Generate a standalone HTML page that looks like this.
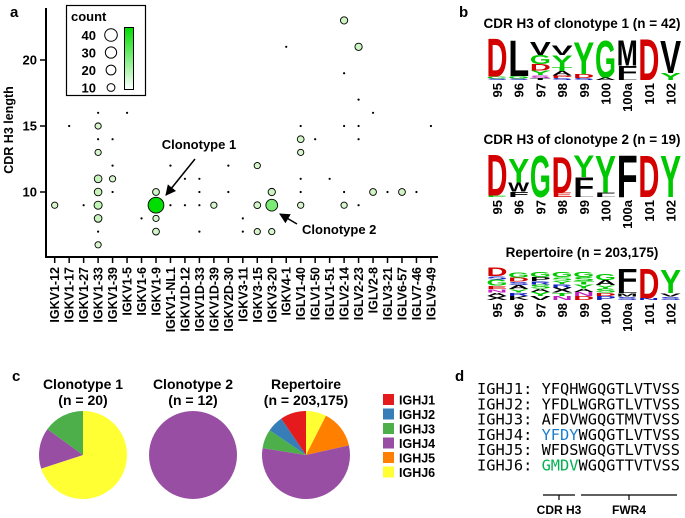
<!DOCTYPE html>
<html><head><meta charset="utf-8">
<style>
html,body{margin:0;padding:0;background:#fff;}
svg{display:block;font-family:"Liberation Sans",Arial,sans-serif;}
.b{font-weight:bold;}
</style></head>
<body>
<svg id="fig" width="685" height="518" viewBox="0 0 685 518" xmlns="http://www.w3.org/2000/svg">
<defs>
<linearGradient id="cg" x1="0" y1="1" x2="0" y2="0"><stop offset="0" stop-color="#ffffff"/><stop offset="1" stop-color="#00dd00"/></linearGradient>
<marker id="ah" viewBox="0 0 10 10" refX="9" refY="5" markerWidth="7" markerHeight="7" orient="auto"><path d="M0,0 L10,5 L0,10 z" fill="#000"/></marker>
</defs>
<g id="pa"></g>
<g id="pb"></g>
<g id="pc"></g>
<g id="pd"></g>
</svg>
<script>
// ---------- Panel a data ----------
const vGenes = ["IGKV1-12","IGKV1-17","IGKV1-27","IGKV1-33","IGKV1-39","IGKV1-5","IGKV1-6","IGKV1-9","IGKV1-NL1","IGKV1D-12","IGKV1D-33","IGKV1D-39","IGKV2D-30","IGKV3-11","IGKV3-15","IGKV3-20","IGKV4-1","IGLV1-40","IGLV1-50","IGLV1-51","IGLV2-14","IGLV2-23","IGLV2-8","IGLV3-21","IGLV6-57","IGLV7-46","IGLV9-49"];
const ptGene = [0,1,2, 3,3,3,3,3,3,3,3,3,3, 4,4,4,4, 5,6, 7,7,7,7, 8,8, 9,9, 10,10,10,10, 11, 12,12, 13,13, 14,14,14, 15,15,15, 16, 17,17,17,17,17,17, 18,19, 20,20,20,20,20, 21,21,21,21,21, 22,22, 23,24,25,26];
const ptLen  = [9,15,9, 16,15,14,13,11,10,9,8,7,6, 14,12,11,10, 16,8, 10,9,8,7, 12,9, 11,9, 11,10,9,7, 9, 12,10, 8,7, 12,9,7, 10,9,7, 21, 15,14,13,11,10,9, 14,11, 23,19,15,10,9, 21,17,15,14,9, 16,10, 10,10,10,15];
const ptCount= [3,1,1, 1,3,1,3,6,6,7,6,1,3, 1,1,3,1, 1,1, 4,42,3,4, 1,1, 1,1, 1,1,1,1, 3, 1,1, 1,1, 3,4,3, 5,20,3, 1, 1,4,3,1,1,3, 1,1, 5,1,1,1,3, 5,1,1,1,1, 1,4, 1,4,1,1];
const yTicks = [10,15,20];
const legendCounts = [40,30,20,10];

// ---------- Panel b data ----------
const logoPositions = ["95","96","97","98","99","100","100a","101","102"];
const logo1Stacks = [
 [["D","r",0.88],["G","g",0.05],["S","b",0.03]],
 [["L","k",0.82],["G","g",0.06],["S","b",0.03]],
 [["V","k",0.3],["G","g",0.2],["D","r",0.15],["Y","g",0.1],["S","m",0.06],["T","k",0.05]],
 [["V","k",0.22],["Y","g",0.28],["T","g",0.08],["A","k",0.1],["P","r",0.06],["S","b",0.04]],
 [["Y","g",0.74],["D","r",0.08],["S","b",0.04]],
 [["G","g",0.84],["A","k",0.06]],
 [["M","k",0.58],["F","k",0.26],["L","k",0.06]],
 [["D","r",0.94]],
 [["V","k",0.74],["Y","g",0.16]]
];
const logo2Stacks = [
 [["D","r",0.94],["E","g",0.03]],
 [["Y","g",0.55],["W","k",0.2],["F","k",0.12]],
 [["G","g",0.95]],
 [["D","r",0.82],["E","r",0.1]],
 [["Y","g",0.5],["F","k",0.4],["L","k",0.04]],
 [["Y","g",0.84],["F","k",0.06],["L","k",0.04]],
 [["F","k",0.96]],
 [["D","r",0.95]],
 [["Y","g",0.95]]
];
const logo3Stacks = [
 [["D","r",0.25],["S","b",0.1],["G","g",0.18],["E","r",0.1],["N","m",0.1],["A","k",0.1],["X","k",0.12]],
 [["G","g",0.15],["D","r",0.12],["S","b",0.1],["A","k",0.12],["Y","g",0.1],["R","b",0.1],["K","k",0.12]],
 [["G","g",0.15],["P","k",0.12],["R","b",0.1],["S","g",0.12],["A","k",0.1],["Y","g",0.12],["V","k",0.12]],
 [["G","g",0.15],["S","g",0.1],["Y","g",0.1],["R","b",0.1],["X","k",0.15],["T","g",0.1],["N","m",0.12]],
 [["G","g",0.15],["S","g",0.12],["T","g",0.1],["Y","g",0.12],["A","k",0.1],["N","m",0.12],["D","r",0.12]],
 [["G","g",0.18],["A","k",0.15],["Y","g",0.1],["S","g",0.12],["D","r",0.1],["P","b",0.12]],
 [["F","k",0.6],["L","k",0.12],["M","k",0.1],["S","b",0.1]],
 [["D","r",0.9],["N","b",0.05]],
 [["Y","g",0.7],["V","k",0.1],["S","b",0.1]]
];
// ---------- Panel c data ----------
const jGenes = ["IGHJ1","IGHJ2","IGHJ3","IGHJ4","IGHJ5","IGHJ6"];
const pieTitles = ["Clonotype 1","Clonotype 2","Repertoire"];
const pieNs = ["(n = 20)","(n = 12)","(n = 203,175)"];
const pie1Values = [0,0,3,3,0,14];
const pie2Values = [0,0,0,12,0,0];
const pie3Values = [9.5,6,7,56,14,7.5];
// ---------- Panel d data ----------
const jNames = ["IGHJ1:","IGHJ2:","IGHJ3:","IGHJ4:","IGHJ5:","IGHJ6:"];
const jCdr = ["YFQH","YFDL","AFDV","YFDY","WFDS","GMDV"];
const jFwr = ["WGQGTLVTVSS","WGRGTLVTVSS","WGQGTMVTVSS","WGQGTLVTVSS","WGQGTLVTVSS","WGQGTTVTVSS"];

const NS="http://www.w3.org/2000/svg";
function mk(parent,tag,attrs,text){const e=document.createElementNS(NS,tag);for(const k in attrs)e.setAttribute(k,attrs[k]);if(text!==undefined)e.textContent=text;parent.appendChild(e);return e;}

// ===== Panel a =====
const pa=document.getElementById('pa');
const xPos=i=>54.7+14.47*i;
const yPos=v=>192-(v-10)*13.2;
const rad=c=>c<=1?1.1:(1.4+Math.sqrt(c)*1.0);
function fillFor(c){const t=Math.min(1,c/42);const r=Math.round(232-232*t),g=Math.round(248-27*t),b=Math.round(220-220*t);return `rgb(${r},${g},${b})`;}
let t;
t=mk(pa,'text',{x:10,y:17,'font-size':15,class:'b'},'a');

let ax=mk(pa,'line',{x1:46,y1:8,x2:46,y2:257.5,stroke:'#000','stroke-width':2});

ax=mk(pa,'line',{x1:45,y1:257,x2:438,y2:257,stroke:'#000','stroke-width':2});

yTicks.forEach(v=>{
  const l=mk(pa,'line',{x1:40,y1:yPos(v),x2:46,y2:yPos(v),stroke:'#000','stroke-width':1.5});
  
  const tx=mk(pa,'text',{x:37,y:yPos(v)+4.5,'font-size':13,'text-anchor':'end',class:'b'},String(v));
  
});
t=mk(pa,'text',{x:0,y:0,'font-size':12.5,'text-anchor':'middle',class:'b',transform:'translate(13,130) rotate(-90)'},'CDR H3 length');

vGenes.forEach((g,i)=>{
  const x=xPos(i);
  const l=mk(pa,'line',{x1:x,y1:257,x2:x,y2:263,stroke:'#000','stroke-width':1.5});
  
  const tx=mk(pa,'text',{x:0,y:0,'font-size':12.5,'text-anchor':'end',class:'b',transform:`translate(${x+4.5},267) rotate(-90)`},g);
  
});
ptGene.forEach((gi,k)=>{
  const c=ptCount[k];
  const p=mk(pa,'circle',{cx:xPos(gi),cy:yPos(ptLen[k]),r:rad(c),fill:c<=1?'#000':fillFor(c),stroke:'#000','stroke-width':c<=1?0:0.9});
  
});
// legend
const lg=mk(pa,'g',{});

mk(lg,'rect',{x:66.5,y:5.5,width:79,height:90,fill:'#fff',stroke:'#000','stroke-width':1.2});
t=mk(lg,'text',{x:71,y:21,'font-size':13,class:'b'},'count');

legendCounts.forEach((c,i)=>{
  const y=35+i*17.5;
  const tx=mk(lg,'text',{x:96,y:y+5,'font-size':13,'text-anchor':'end',class:'b'},String(c));
  
  const ci=mk(lg,'circle',{cx:111,cy:y,r:rad(c)*0.75+0.5,fill:'none',stroke:'#000','stroke-width':1});
  
});
let gb=mk(lg,'rect',{x:124.5,y:27.5,width:9,height:62,fill:'url(#cg)',stroke:'#000','stroke-width':1});

// annotations
t=mk(pa,'text',{x:199,y:149,'font-size':13,'text-anchor':'middle',class:'b'},'Clonotype 1');

let ar=mk(pa,'line',{x1:195,y1:159,x2:166,y2:195,stroke:'#000','stroke-width':1.5,'marker-end':'url(#ah)'});

t=mk(pa,'text',{x:302,y:234,'font-size':13,class:'b'},'Clonotype 2');

ar=mk(pa,'line',{x1:297,y1:224,x2:280,y2:214,stroke:'#000','stroke-width':1.5,'marker-end':'url(#ah)'});


// ===== Panel b =====
const pb=document.getElementById('pb');
const colMap={r:'#d40000',g:'#00c800',k:'#000',b:'#1020c0',m:'#c020c0'};
t=mk(pb,'text',{x:459,y:17,'font-size':15,class:'b'},'b');

function drawLogo(stacks,title,titleY,top,bottom,numY,name){
  const g=mk(pb,'g',{});
  
  const tt=mk(g,'text',{x:582,y:titleY,'font-size':13.5,'text-anchor':'middle',class:'b'},title);
  
  const H=bottom-top;
  stacks.forEach((st,i)=>{
    const cx=497+21.7*i;
    let y=top+H*(1-st.reduce((s,e)=>s+e[2],0));
    st.forEach(e=>{
      const h=H*e[2];
      if(h>0.5){
        const L=mk(g,'text',{x:cx-10.5,y:y+h,'font-size':h/0.72,textLength:21,lengthAdjust:'spacingAndGlyphs',fill:colMap[e[1]],class:'b'},e[0]);
        
      }
      y+=h;
    });
    const n=mk(g,'text',{x:0,y:0,'font-size':13,'text-anchor':'end',class:'b',transform:`translate(${cx+5},${numY}) rotate(-90)`},logoPositions[i]);
    
  });
}
drawLogo(logo1Stacks,'CDR H3 of clonotype 1 (n = 42)',28,35,80,83,'logo-clonotype-1');
drawLogo(logo2Stacks,'CDR H3 of clonotype 2 (n = 19)',144,152,197,200,'logo-clonotype-2');
drawLogo(logo3Stacks,'Repertoire (n = 203,175)',257,266,300,303,'logo-repertoire');

// ===== Panel c =====
const pc=document.getElementById('pc');
const jColors=['#e41a1c','#377eb8','#4daf4a','#984ea3','#ff7f00','#ffff33'];
t=mk(pc,'text',{x:12,y:381,'font-size':15,class:'b'},'c');

function drawPie(vals,cx,cy,r,idx){
  const g=mk(pc,'g',{});
  
  const tot=vals.reduce((a,b)=>a+b,0);
  let a0=0;
  for(let j=5;j>=0;j--){
    const v=vals[j];if(v<=0)continue;
    const a1=a0+v/tot*2*Math.PI;
    let el;
    if(v>=tot){el=mk(g,'circle',{cx,cy,r,fill:jColors[j]});}
    else{
      const x0=cx+r*Math.sin(a0),y0=cy-r*Math.cos(a0),x1=cx+r*Math.sin(a1),y1=cy-r*Math.cos(a1);
      el=mk(g,'path',{d:`M${cx},${cy} L${x0},${y0} A${r},${r} 0 ${a1-a0>Math.PI?1:0} 1 ${x1},${y1} Z`,fill:jColors[j]});
    }
    
    a0=a1;
  }
  const t1=mk(g,'text',{x:cx,y:389,'font-size':14,'text-anchor':'middle',class:'b'},pieTitles[idx]);
  
  const t2=mk(g,'text',{x:cx,y:405,'font-size':14,'text-anchor':'middle',class:'b'},pieNs[idx]);
  
}
drawPie(pie1Values,83,455,44,0);
drawPie(pie2Values,193,455,44,1);
drawPie(pie3Values,306,455,44,2);
jGenes.forEach((gname,j)=>{
  const y=400+j*14.5;
  const s=mk(pc,'rect',{x:383,y:y-6,width:11,height:11,fill:jColors[j]});
  
  const tx=mk(pc,'text',{x:399,y:y+4.5,'font-size':12.5,class:'b'},gname);
  
});

// ===== Panel d =====
const pd=document.getElementById('pd');
t=mk(pd,'text',{x:455,y:381,'font-size':15,class:'b'},'d');

const cdrColors={3:'#1a7fd0',5:'#00b050'};
jNames.forEach((n,i)=>{
  const y=394+i*15.3;
  const tx=mk(pd,'text',{x:477,y:y,'font-size':15,'font-family':'"DejaVu Sans Mono","Liberation Mono",monospace',textLength:203,lengthAdjust:'spacingAndGlyphs'});
  
  mk(tx,'tspan',{},n+' ');
  mk(tx,'tspan',{fill:cdrColors[i]||'#000'},jCdr[i]);
  mk(tx,'tspan',{},jFwr[i]);
});
let br=mk(pd,'path',{d:'M543,495 H575 M559,495 V500 M581,495 H677 M629,495 V500',stroke:'#000','stroke-width':1.2,fill:'none'});

t=mk(pd,'text',{x:559,y:514,'font-size':12,'text-anchor':'middle',class:'b'},'CDR H3');

t=mk(pd,'text',{x:629,y:514,'font-size':12,'text-anchor':'middle',class:'b'},'FWR4');

</script>
</body></html>
